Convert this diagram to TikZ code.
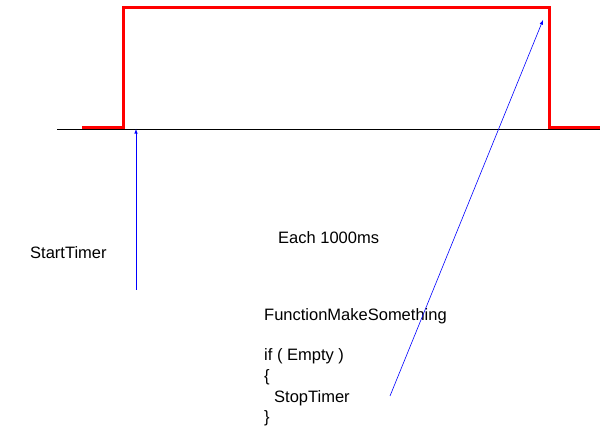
\documentclass[tikz,border=0pt]{standalone}
\usepackage{fontspec}
\setmainfont{Liberation Sans}
\begin{document}
\begin{tikzpicture}[x=1pt,y=-1pt,
  lbl/.style={anchor=west,inner sep=0pt,font=\fontsize{16.5}{18}\selectfont},
  sig/.style={red,line width=3pt},
  arr/.style={blue,line width=0.6pt,-latex}]
\useasboundingbox[fill=white] (0,0) rectangle (600,430);
\coordinate (b0) at (57,129);
\coordinate (b1) at (600,129);
\draw[black,line width=0.6pt] (b0) -- (b1);
\coordinate (s0) at (82,128);
\coordinate (s1) at (123,128);
\coordinate (s2) at (123,8);
\coordinate (s3) at (549,8);
\coordinate (s4) at (549,128);
\coordinate (s5) at (600,128);
\draw[sig] (s0) -- (s1) -- (s2) -- (s3) -- (s4) -- (s5);
\node[lbl] (st) at (30,253) {StartTimer};
\node[lbl] (each) at (278,238) {Each 1000ms};
\node[lbl] (f) at (264,316) {FunctionMakeSomething};
\node[lbl] (if) at (264,356) {if ( Empty )};
\node[lbl] (ob) at (264,377) {\{};
\node[lbl] (stop) at (274,398) {StopTimer};
\node[lbl] (cb) at (264,418) {\}};
\coordinate (a0) at (136,290);
\coordinate (a1) at (136,129);
\coordinate (c0) at (390,396);
\coordinate (c1) at (543,20);
\draw[arr] (a0) -- (a1);
\draw[arr] (c0) -- (c1);
\end{tikzpicture}
\end{document}
